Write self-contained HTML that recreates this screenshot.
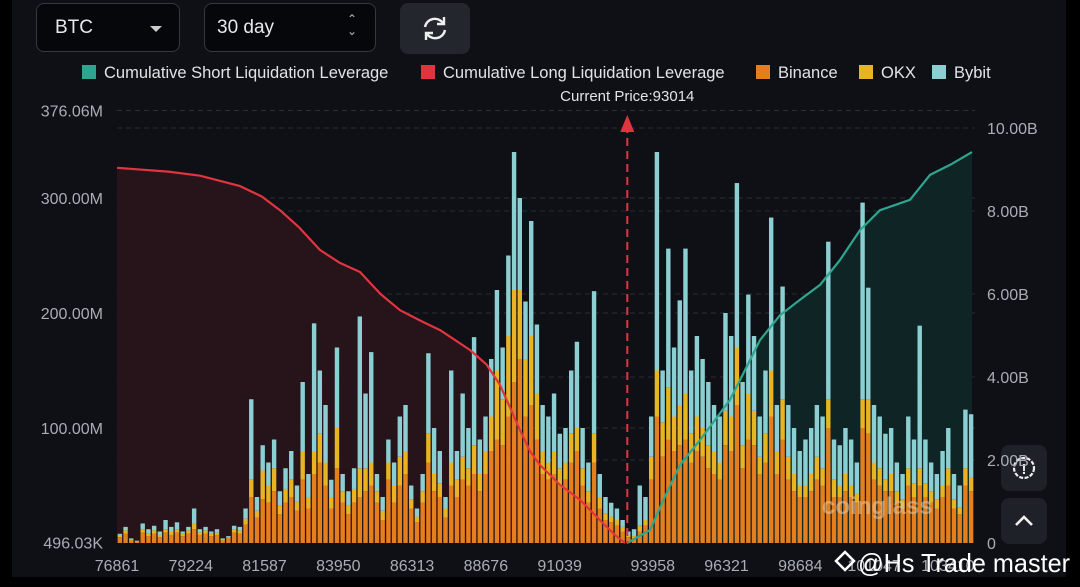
<!DOCTYPE html>
<html><head><meta charset="utf-8">
<style>
html,body{margin:0;padding:0;background:#000;}
#wrap{position:relative;width:1080px;height:587px;overflow:hidden;background:#000;font-family:"Liberation Sans",sans-serif;}
#card{position:absolute;left:12px;top:0;width:1054px;height:577px;background:#0e1016;}
.sel{position:absolute;top:3px;height:49px;border:1px solid #34373e;border-radius:8px;background:#06070a;color:#e8e8ea;font-size:19px;box-sizing:border-box;}
svg{position:absolute;left:0;top:0;}
</style></head><body>
<div id="wrap">
<div id="card"></div>
<div class="sel" style="left:36px;width:144px;"><span style="position:absolute;left:18px;top:13px;">BTC</span><span style="position:absolute;left:113px;top:22px;width:0;height:0;border-left:6px solid transparent;border-right:6px solid transparent;border-top:6px solid #ccc;"></span></div>
<div class="sel" style="left:204px;width:172px;"><span style="position:absolute;left:12px;top:13px;">30 day</span><span style="position:absolute;left:142px;top:9px;font-size:12px;line-height:12px;color:#bbb;">&#8963;<br>&#8964;</span></div>
<div style="position:absolute;left:400px;top:3px;width:70px;height:51px;border-radius:8px;background:#23262d;">
<svg width="70" height="51" viewBox="0 0 70 51"><path d="M25 24 a10 10 0 0 1 18 -4 M45 27 a10 10 0 0 1 -18 4" stroke="#eee" stroke-width="2.4" fill="none"/><path d="M44 14 v7 h-7 M26 37 v-7 h7" stroke="#eee" stroke-width="2.4" fill="none"/></svg></div>
<div style="position:absolute;left:1001px;top:445px;width:46px;height:46px;border-radius:8px;background:#1e2127;"><svg width="46" height="46"><circle cx="23" cy="23" r="10" stroke="#eee" stroke-width="2.2" fill="none" stroke-dasharray="4 1.5"/><text x="23" y="29" fill="#eee" font-size="15" font-weight="bold" text-anchor="middle" font-family="Liberation Sans">!</text></svg></div>
<div style="position:absolute;left:1001px;top:498px;width:46px;height:46px;border-radius:8px;background:#1e2127;"><svg width="46" height="46"><path d="M15 27 L23 19 L31 27" stroke="#eee" stroke-width="2.6" fill="none"/></svg></div>
<svg id="chart" width="1080" height="587"></svg>
</div>
<script>
const binance=[5,8,2,1,9,6,8,5,9,7, 9,6,8,12,7,8,6,7,2,4, 9,8,16,40,22,38,35,45,25,35, 40,28,55,30,60,70,50,30,65,35, 25,35,40,45,50,35,20,55,35,50, 60,30,18,35,70,45,40,22,50,40, 55,50,60,45,60,80,90,85,110,140, 160,110,120,90,60,55,60,50,55,70, 80,50,35,70,30,20,18,15,10,5, 4,10,15,55,110,75,90,80,85,90, 70,80,75,65,60,55,85,80,120,65, 90,85,60,70,110,60,90,55,45,40, 40,45,55,50,100,40,40,45,40,35, 100,95,55,50,45,45,35,30,50,40, 50,40,35,30,40,50,30,25,50,45];
const okx=[2,3,1,0,3,2,3,2,3,3, 3,2,3,5,2,3,2,2,1,1, 3,3,5,15,6,25,15,20,8,12, 15,8,25,10,20,25,20,10,35,10, 8,12,25,20,20,10,8,15,15,25, 20,8,5,10,25,15,12,8,20,15, 20,15,25,15,20,30,60,40,70,80, 60,50,60,40,20,15,20,15,15,25, 20,15,10,25,10,6,5,5,4,2, 2,5,5,20,40,30,45,30,35,40, 25,30,25,20,20,15,30,30,50,20, 40,30,15,25,40,20,35,20,15,10, 10,15,20,15,25,15,10,15,10,8, 25,30,15,15,10,15,10,8,15,12, 15,12,10,8,10,15,8,6,15,12];
const bybit=[1,3,1,1,5,4,4,3,8,4, 6,2,3,13,3,3,2,3,1,1, 3,3,9,70,12,22,20,25,12,18, 25,14,60,20,111,55,50,15,70,15, 12,18,132,65,96,15,12,20,20,35, 40,12,7,15,70,40,28,10,80,25, 55,35,94,30,30,50,70,45,70,120, 80,50,100,60,40,40,50,30,30,55, 75,35,25,124,20,14,12,10,6,3, 6,35,20,35,190,45,121,60,91,126, 55,70,60,55,40,40,85,70,143,55, 86,65,35,55,133,40,98,45,40,30, 40,40,45,45,137,35,35,40,40,27, 171,97,50,45,40,40,25,22,45,38, 124,38,25,22,30,35,22,19,51,55];
const startPrice=76861, binSize=183;
const longPrices=[76861,78500,79520,80800,81500,82082,82700,83363,84000,84645,85300,85926,86600,87207,88168,88700,89129,89770,90100,90410,91051,91691,92332,92800,93133];
const longValues=[9.04,8.95,8.85,8.6,8.35,8.02,7.6,7.06,6.75,6.53,6.0,5.61,5.35,5.13,4.65,4.3,3.81,2.72,2.2,1.88,1.40,1.04,0.55,0.2,0];
const shortPrices=[93197,93934,94400,94895,95535,96000,96496,97000,97457,98097,98738,99379,100019,100660,101301,101800,102262,102902,103543,104248];
const shortValues=[0,0.31,1.1,1.88,2.48,2.95,3.45,4.2,4.89,5.49,5.86,6.22,6.82,7.54,8.02,8.15,8.27,8.87,9.11,9.42];
const xTicks=["76861","79224","81587","83950","86313","88676","91039","93958","96321","98684","101047","103410"];
const leftTicks=[0.49603,100,200,300,376.06];
const leftLabels=["496.03K","100.00M","200.00M","300.00M","376.06M"];
const rightTicks=[0,2,4,6,8,10];
const rightLabels=["0","2.00B","4.00B","6.00B","8.00B","10.00B"];
const currentPrice=93014;

const NS="http://www.w3.org/2000/svg";
const svg=document.getElementById('chart');
const X=p=>117+(p-startPrice)*0.03122;
const YL=v=>543-v*1.15;
const YR=v=>543-v*41.5;
function el(t,a,p){const e=document.createElementNS(NS,t);for(const k in a)e.setAttribute(k,a[k]);(p||svg).appendChild(e);return e;}
leftTicks.forEach((v,i)=>{if(i>0){const g=el('line',{x1:117,x2:975,y1:YL(v),y2:YL(v),stroke:'#2b2f37','stroke-dasharray':'5 4'});}
 const t=el('text',{x:103,y:YL(v)+6,fill:'#a9adb5','font-size':16,'text-anchor':'end'});t.textContent=leftLabels[i];});
rightTicks.forEach((v,i)=>{if(i>0){const g=el('line',{x1:117,x2:975,y1:YR(v),y2:YR(v),stroke:'#262a32','stroke-dasharray':'5 4'});}
 const t=el('text',{x:987,y:YR(v)+6,fill:'#a9adb5','font-size':16});t.textContent=rightLabels[i];});
function pathFor(ps,vs){return ps.map((p,i)=>(i?'L':'M')+X(p).toFixed(1)+' '+YR(vs[i]).toFixed(1)).join(' ');}
const lp=pathFor(longPrices,longValues);
const la=el('path',{d:lp+` L${X(longPrices[longPrices.length-1])} 543 L${X(longPrices[0])} 543 Z`,fill:'#2a141b',opacity:0.9});

const sp=pathFor(shortPrices,shortValues);
const sa=el('path',{d:sp+` L${X(shortPrices[shortPrices.length-1])} 543 L${X(shortPrices[0])} 543 Z`,fill:'#0f2626',opacity:0.95});

const pitch=binSize*0.03122, bw=4.4;
for(let i=0;i<binance.length;i++){
 const x=X(startPrice+i*binSize)+(pitch-bw)/2;
 let base=0;
 [[binance,'#e57f1e','bar-binance'],[okx,'#e8b424','bar-okx'],[bybit,'#8ccfd2','bar-bybit']].forEach(([arr,c,n])=>{
  const v=arr[i];
  const r=el('rect',{x:x.toFixed(2),y:YL(base+v).toFixed(2),width:bw,height:Math.max(0,v*1.15).toFixed(2),fill:c});
  
  
  base+=v;});
}
const ll=el('path',{d:lp,stroke:'#e0353f','stroke-width':2.2,fill:'none','stroke-linejoin':'round'});

const sl=el('path',{d:sp,stroke:'#2fa58f','stroke-width':2.2,fill:'none','stroke-linejoin':'round'});

const cx=X(currentPrice)+6;
const cl=el('line',{x1:cx,x2:cx,y1:125,y2:543,stroke:'#e0353f','stroke-width':2,'stroke-dasharray':'8 5'});

const ca=el('path',{d:`M${cx} 115 L${cx-7} 132 L${cx+7} 132 Z`,fill:'#e0353f'});

const ct=el('text',{x:cx,y:101,fill:'#e2e3e6','font-size':15,'text-anchor':'middle'});ct.textContent='Current Price:'+currentPrice;

xTicks.forEach((lab,i)=>{const t=el('text',{x:X(+lab)+(i>=7?2:0),y:571,fill:'#a9adb5','font-size':16,'text-anchor':'middle'});t.textContent=lab;
 });
const leg=[['#2fa58f','Cumulative Short Liquidation Leverage',82],['#e0353f','Cumulative Long Liquidation Leverage',421],['#e57f1e','Binance',756],['#e8b424','OKX',859],['#8ccfd2','Bybit',932]];
leg.forEach(([c,n,x])=>{const g=el('g',{});
 el('rect',{x:x,y:65,width:14,height:14,fill:c},g);const t=el('text',{x:x+22,y:78,fill:'#e2e3e6','font-size':16.5},g);t.textContent=n;});
const wm=el('text',{x:822,y:514,fill:'#d9cbb0','font-size':24,'font-weight':'bold',opacity:0.55});wm.textContent='coinglass';

const wm2=el('text',{x:858,y:572,fill:'#ffffff','font-size':26,textLength:212,lengthAdjust:'spacingAndGlyphs'});wm2.textContent='@Hs Trade master';

const dm=el('path',{d:'M845 552 l9 9 l-9 9 l-9 -9 Z',stroke:'#fff','stroke-width':2.5,fill:'none'});

</script>
</body></html>
